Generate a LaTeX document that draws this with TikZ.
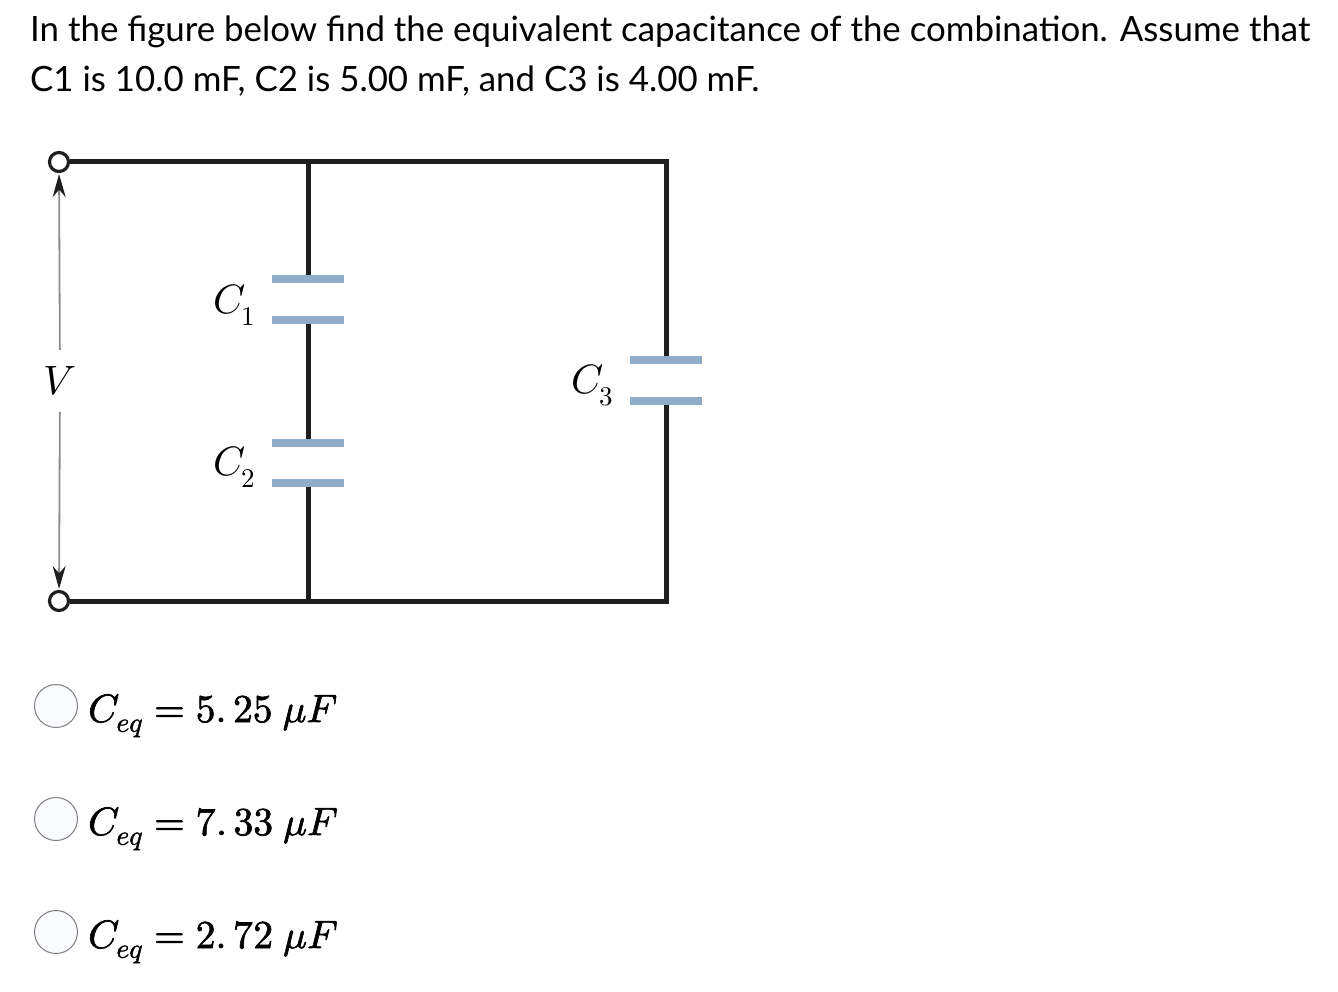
\documentclass[tikz,border=0pt]{standalone}
\usepackage{fontspec}
\setmainfont{Lato}
\usepackage{unicode-math}
\setmathfont{Latin Modern Math}
\setmathfont{Latin Modern Math}[version=heavy,FakeBold=1.6]
\usetikzlibrary{calc}
\usetikzlibrary{arrows.meta}
\usetikzlibrary{positioning}
\definecolor{platecol}{HTML}{8FACC8}
\definecolor{wirecol}{HTML}{1E1E1E}
\definecolor{radiocol}{HTML}{7F7F7F}
\definecolor{radiofill}{HTML}{FAFBFF}
\newcommand{\capsym}[1]{$C$\kern-4pt\lower12pt\hbox{\fontsize{27}{27}\selectfont$#1$}}
\tikzset{
	>={Stealth[length=23pt,width=13pt,color=wirecol]},
	wire/.style={draw=wirecol, line width=5pt},
	plate/.style={draw=platecol, line width=8.4pt},
	terminal/.style={circle, draw=wirecol, fill=white, line width=3.2pt, inner sep=0pt, minimum size=19pt},
	volt/.style={draw=black!45, line width=1.8pt, ->, shorten >=1pt},
	radio/.style={circle, draw=radiocol, fill=radiofill, line width=1pt, inner sep=0pt, minimum size=43pt},
	question/.style={anchor=base west, inner sep=0pt, font=\fontsize{34.85}{34.85}\selectfont},
	capname/.style={anchor=base west, inner sep=0pt, font=\fontsize{41}{41}\selectfont},
	answer/.style={anchor=base west, inner sep=0pt, font=\fontsize{39.5}{39.5}\selectfont\mathversion{heavy}},
}
\begin{document}
\begin{tikzpicture}[x=1pt,y=-1pt]
	\useasboundingbox (0,0) rectangle (1338,992);
	\node[question] (line1) at (30,42) {In the figure below find the equivalent capacitance of the combination. Assume that};
	\node[question] (line2) at (30,92) {C1 is 10.0 mF, C2 is 5.00 mF, and C3 is 4.00 mF.};

	% circuit
	\coordinate (tm) at (308,162);
	\coordinate (bm) at (308,601);
	\coordinate (tr) at (666,162);
	\coordinate (br) at (666,601);
	\coordinate (aone) at (308,279);
	\coordinate (bone) at (308,320);
	\coordinate (atwo) at (308,443);
	\coordinate (btwo) at (308,483);
	\coordinate (athree) at (666,360);
	\coordinate (bthree) at (666,401);
	\node[terminal] (top) at (59,162) {};
	\node[terminal] (bot) at (59,601) {};
	\draw[wire, miter limit=10] (top) -- (tr) -- (athree);
	\draw[wire, miter limit=10] (bthree) -- (br) -- (bot);
	\draw[wire] (tm) -- (aone);
	\draw[wire] (bone) -- (atwo);
	\draw[wire] (btwo) -- (bm);
	\foreach \p in {aone,bone,atwo,btwo,athree,bthree}
		\draw[plate] ($(\p)+(-36,0)$) -- ($(\p)+(36,0)$);

	\node[capname] (cone) at (213,313) {\capsym{1}};
	\node[capname] (ctwo) at (213,475) {\capsym{2}};
	\node[capname] (cthree) at (571,393) {\capsym{3}};
	\node[minimum height=62pt, inner sep=0pt, font=\fontsize{41}{41}\selectfont] (vlab) at (60,381) {$V$};
	\draw[volt] (vlab) -- (top);
	\draw[volt] (vlab) -- (bot);

	% answers
	\foreach \y/\val/\n in {706/5.\,25/a,819/7.\,33/b,932/2.\,72/c}{
		\node[radio] (radio\n) at (56,\y) {};
		\node[answer] (ans\n) at (88,\y+16) {$C_{eq}=\val\ \mu F$};
	}
\end{tikzpicture}
\end{document}
